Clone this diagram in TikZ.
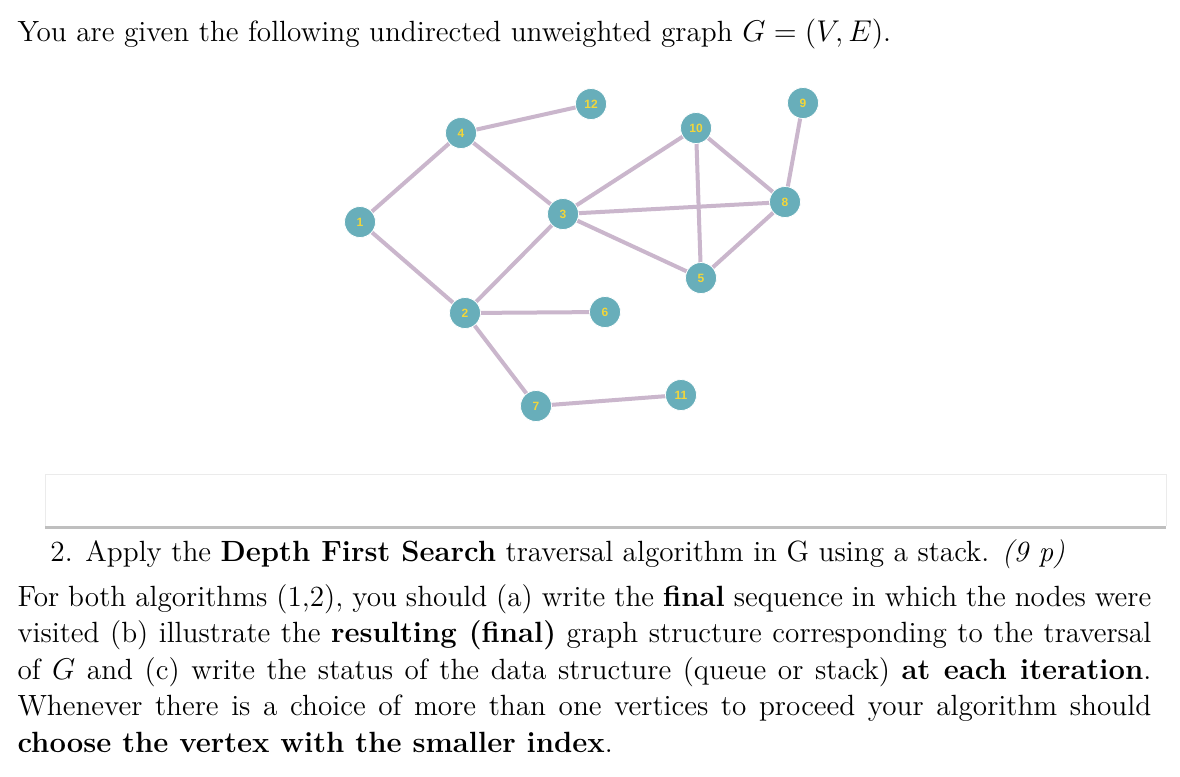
\documentclass[tikz,border=0pt]{standalone}
\usepackage{fontspec}
\newfontfamily\nodefont{Liberation Sans}
\usetikzlibrary{backgrounds}
\begin{document}
\begin{tikzpicture}[x=0.4pt,y=-0.4pt,
  v/.style={circle,fill=nodeteal,draw=white,line width=0.3pt,minimum size=12.4pt,inner sep=0pt,text=nodeyellow,font=\nodefont\fontsize{4.8}{5}\selectfont\bfseries},
  e/.style={draw=edgepurple,line width=1.6pt},
  txt/.style={anchor=base west,inner sep=0pt,font=\fontsize{11.7}{14.6}\selectfont}]
\definecolor{nodeteal}{HTML}{68AEBA}
\definecolor{nodeyellow}{HTML}{F2D63A}
\definecolor{edgepurple}{HTML}{CAB6CC}
\useasboundingbox (0,0) rectangle (1180,776);
\node[txt] (title) at (17,41) {You are given the following undirected unweighted graph $G=(V,E)$.};
\node[v] (n1) at (360,222) {1};
\node[v] (n4) at (461,133) {4};
\node[v] (n12) at (591,104) {12};
\node[v] (n10) at (696,128) {10};
\node[v] (n9) at (803,103) {9};
\node[v] (n8) at (785,202) {8};
\node[v] (n3) at (563,214) {3};
\node[v] (n5) at (701,278) {5};
\node[v] (n2) at (465,313) {2};
\node[v] (n6) at (605,312) {6};
\node[v] (n7) at (536,406) {7};
\node[v] (n11) at (681,395) {11};
\begin{scope}[on background layer]
\fill[white] (0,0) rectangle (1180,776);
\foreach \a/\b in {n1/n4,n1/n2,n4/n12,n4/n3,n3/n10,n3/n8,n3/n5,n3/n2,n10/n8,n10/n5,n9/n8,n8/n5,n2/n6,n2/n7,n7/n11}
  \path[e] (\a.center) -- (\b.center);
\end{scope}
\fill[black!25] (45,525) rectangle (1166,529);
\fill[white] (45,474) rectangle (1166,526);
\draw[black!8] (45,526) -- (45,474) -- (1166,474) -- (1166,526);
\node[txt] (q2) at (50,561) {2. Apply the \textbf{Depth First Search} traversal algorithm in G using a stack. \textit{(9 p)}};
\node[anchor=north west,inner sep=0pt,text width=453.5pt,align=justify,font=\fontsize{11.7}{14.6}\selectfont] (para) at (17,584) {For both algorithms (1,2), you should (a) write the \textbf{final} sequence in which the nodes were\linebreak visited (b) illustrate the \textbf{resulting (final)} graph structure corresponding to the traversal\linebreak of $G$ and (c) write the status of the data structure (queue or stack) \textbf{at each iteration}.\linebreak Whenever there is a choice of more than one vertices to proceed your algorithm should\linebreak \textbf{choose the vertex with the smaller index}.};
\end{tikzpicture}
\end{document}
